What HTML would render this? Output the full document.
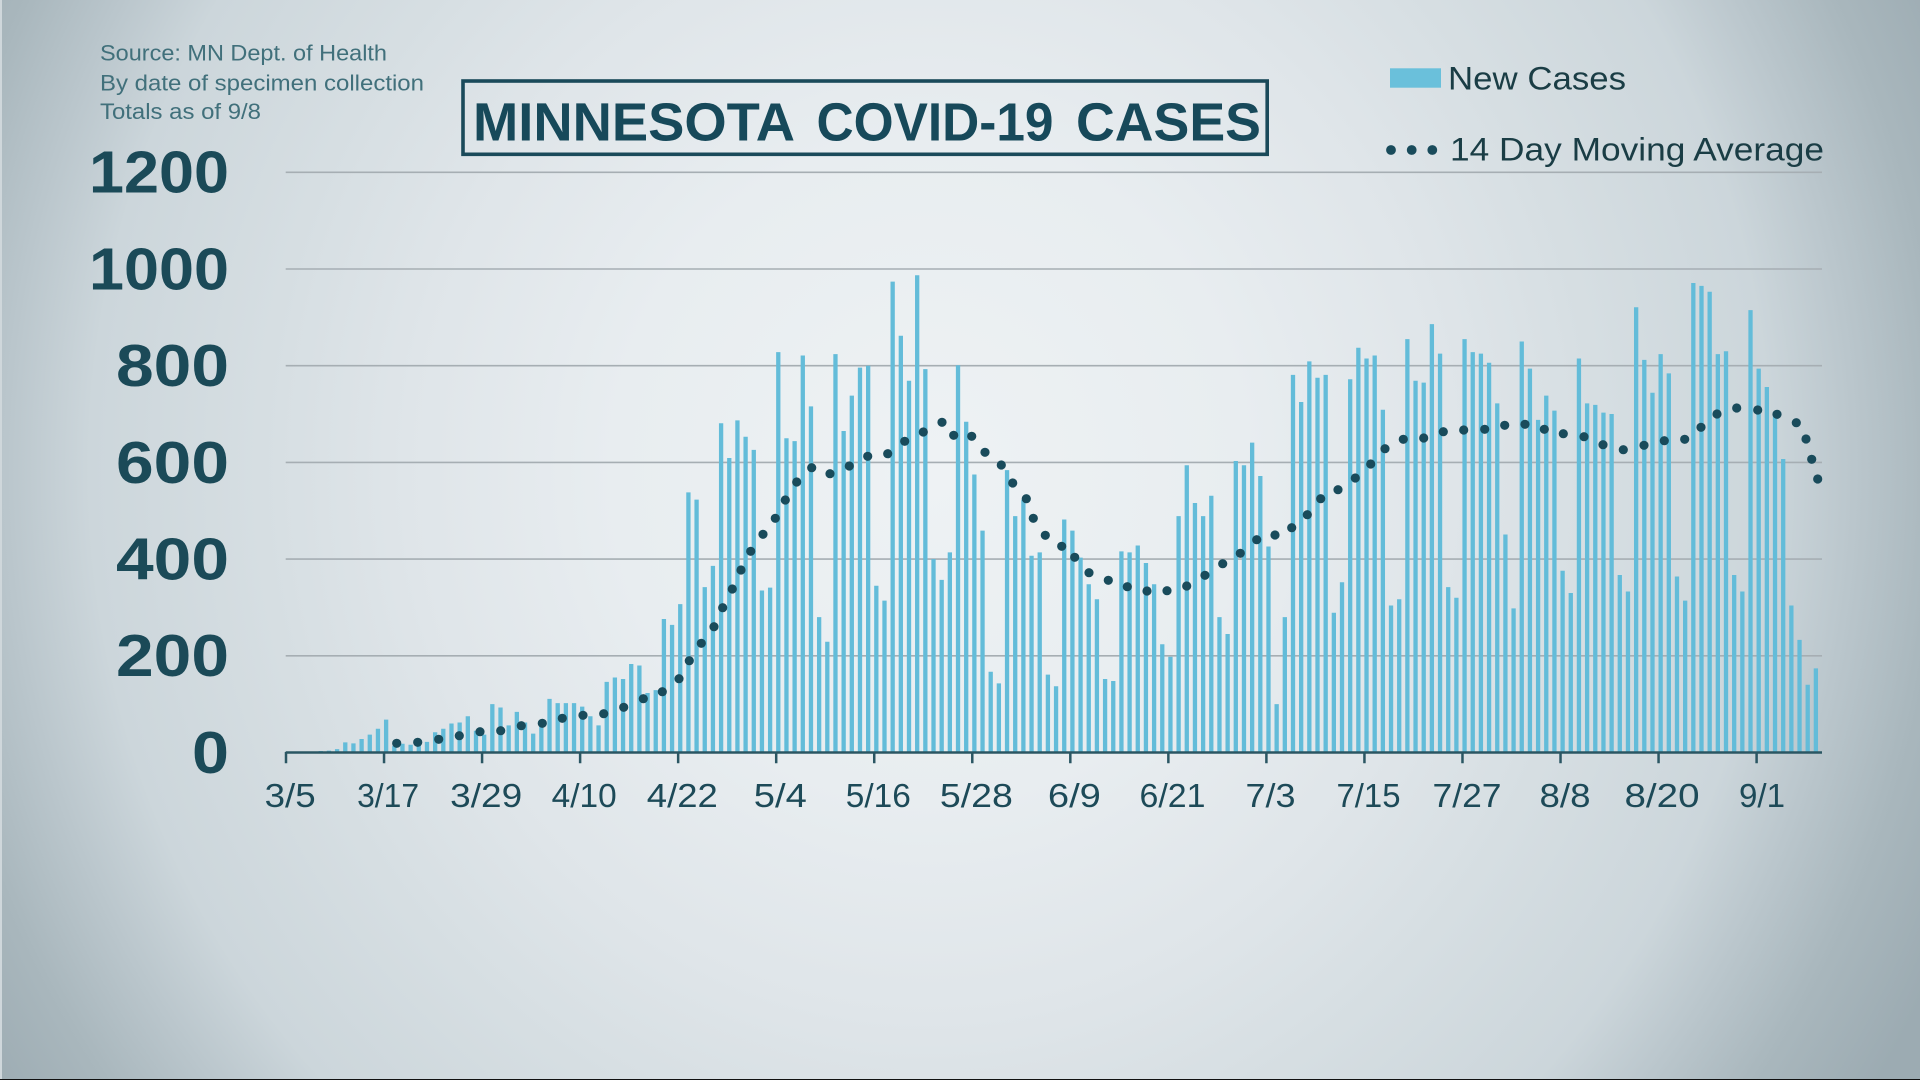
<!DOCTYPE html>
<html>
<head>
<meta charset="utf-8">
<style>
html,body{margin:0;padding:0;width:1920px;height:1080px;overflow:hidden}
body{background:radial-gradient(1050px 1100px at 930px 470px,#eef2f4 0%,#e8edf0 30%,#dfe5e9 50%,#d7dfe3 62%,#ccd6db 80%,#bac6cc 88%,#a9b7bd 96%,#9cabb2 106%);}
svg{position:absolute;left:0;top:0}
text{font-family:"Liberation Sans",Arial,sans-serif}
</style>
</head>
<body>
<svg width="1920" height="1080" viewBox="0 0 1920 1080" xmlns="http://www.w3.org/2000/svg">
<rect x="0" y="0" width="2" height="1080" fill="#cfd7db"/>
<rect x="0" y="1079" width="1920" height="1" fill="#111"/>

<g fill="#41707b" font-size="22">
<text x="100" y="60.7" textLength="287" lengthAdjust="spacingAndGlyphs">Source: MN Dept. of Health</text>
<text x="100" y="90.7" textLength="324" lengthAdjust="spacingAndGlyphs">By date of specimen collection</text>
<text x="100" y="119" textLength="161" lengthAdjust="spacingAndGlyphs">Totals as of 9/8</text>
</g>

<rect x="463" y="81" width="804.2" height="73.3" fill="none" stroke="#1a4a5a" stroke-width="3.6"/>
<g fill="#17495a" font-size="54" font-weight="bold">
<text x="473" y="140.7" textLength="322" lengthAdjust="spacingAndGlyphs">MINNESOTA</text>
<text x="816.5" y="140.7" textLength="237" lengthAdjust="spacingAndGlyphs">COVID-19</text>
<text x="1076" y="140.7" textLength="185" lengthAdjust="spacingAndGlyphs">CASES</text>
</g>

<rect x="1390" y="68.3" width="51" height="19.4" fill="#6ac0db"/>
<g fill="#1a3d45" font-size="32">
<text x="1448" y="89.3" textLength="178" lengthAdjust="spacingAndGlyphs">New Cases</text>
<text x="1450" y="160.7" textLength="374" lengthAdjust="spacingAndGlyphs">14 Day Moving Average</text>
</g>
<g fill="#194b5b">
<circle cx="1391" cy="150" r="4.9"/><circle cx="1411.7" cy="150" r="4.9"/><circle cx="1432.3" cy="150" r="4.9"/>
</g>

<g stroke="#a6aeb3" stroke-width="1.6">
<line x1="285.7" y1="172.3" x2="1822" y2="172.3"/>
<line x1="285.7" y1="269" x2="1822" y2="269"/>
<line x1="285.7" y1="365.7" x2="1822" y2="365.7"/>
<line x1="285.7" y1="462.4" x2="1822" y2="462.4"/>
<line x1="285.7" y1="559.1" x2="1822" y2="559.1"/>
<line x1="285.7" y1="655.8" x2="1822" y2="655.8"/>
</g>

<g fill="#1b4a58" font-size="59" font-weight="bold" text-anchor="end">
<text x="229" y="192.7" textLength="140" lengthAdjust="spacingAndGlyphs">1200</text>
<text x="229" y="289.4" textLength="140" lengthAdjust="spacingAndGlyphs">1000</text>
<text x="229" y="386.1" textLength="113" lengthAdjust="spacingAndGlyphs">800</text>
<text x="229" y="482.8" textLength="113" lengthAdjust="spacingAndGlyphs">600</text>
<text x="229" y="579.5" textLength="113" lengthAdjust="spacingAndGlyphs">400</text>
<text x="229" y="676.2" textLength="113" lengthAdjust="spacingAndGlyphs">200</text>
<text x="229" y="772.9" textLength="37" lengthAdjust="spacingAndGlyphs">0</text>
</g>

<g transform="translate(285.935,752.5) scale(1,-0.4835)" fill="#63bcd9">
<path d="M0,0h4.3v2h-4.3z m8.17,0h4.3v1h-4.3z m8.17,0h4.3v1h-4.3z m8.17,0h4.3v2h-4.3z m8.17,0h4.3v3h-4.3z m8.17,0h4.3v4h-4.3z m8.17,0h4.3v7h-4.3z m8.17,0h4.3v21h-4.3z m8.17,0h4.3v19h-4.3z m8.17,0h4.3v28h-4.3z m8.17,0h4.3v37h-4.3z m8.17,0h4.3v49h-4.3z m8.17,0h4.3v68h-4.3z m8.17,0h4.3v14h-4.3z m8.17,0h4.3v18h-4.3z m8.17,0h4.3v16h-4.3z m8.17,0h4.3v23h-4.3z m8.17,0h4.3v22h-4.3z m8.17,0h4.3v42h-4.3z m8.17,0h4.3v49h-4.3z m8.17,0h4.3v60h-4.3z m8.17,0h4.3v62h-4.3z m8.17,0h4.3v75h-4.3z m8.17,0h4.3v45h-4.3z m8.17,0h4.3v37h-4.3z m8.17,0h4.3v100h-4.3z m8.17,0h4.3v93h-4.3z m8.17,0h4.3v56h-4.3z m8.17,0h4.3v84h-4.3z m8.17,0h4.3v62h-4.3z m8.17,0h4.3v39h-4.3z m8.17,0h4.3v62h-4.3z m8.17,0h4.3v111h-4.3z m8.17,0h4.3v102h-4.3z m8.17,0h4.3v102h-4.3z m8.17,0h4.3v102h-4.3z m8.17,0h4.3v95h-4.3z m8.17,0h4.3v75h-4.3z m8.17,0h4.3v56h-4.3z m8.17,0h4.3v146h-4.3z m8.17,0h4.3v155h-4.3z m8.17,0h4.3v152h-4.3z m8.17,0h4.3v183h-4.3z m8.17,0h4.3v180h-4.3z m8.17,0h4.3v123h-4.3z m8.17,0h4.3v129h-4.3z m8.17,0h4.3v276h-4.3z m8.17,0h4.3v264h-4.3z m8.17,0h4.3v307h-4.3z m8.17,0h4.3v538h-4.3z m8.17,0h4.3v523h-4.3z m8.17,0h4.3v342h-4.3z m8.17,0h4.3v386h-4.3z m8.17,0h4.3v681h-4.3z m8.17,0h4.3v609h-4.3z m8.17,0h4.3v687h-4.3z m8.17,0h4.3v653h-4.3z m8.17,0h4.3v626h-4.3z m8.17,0h4.3v335h-4.3z m8.17,0h4.3v341h-4.3z m8.17,0h4.3v828h-4.3z m8.17,0h4.3v650h-4.3z m8.17,0h4.3v644h-4.3z m8.17,0h4.3v821h-4.3z m8.17,0h4.3v716h-4.3z m8.17,0h4.3v280h-4.3z m8.17,0h4.3v229h-4.3z m8.17,0h4.3v824h-4.3z m8.17,0h4.3v665h-4.3z m8.17,0h4.3v738h-4.3z m8.17,0h4.3v796h-4.3z m8.17,0h4.3v800h-4.3z m8.17,0h4.3v345h-4.3z m8.17,0h4.3v314h-4.3z m8.17,0h4.3v974h-4.3z m8.17,0h4.3v862h-4.3z m8.17,0h4.3v769h-4.3z m8.17,0h4.3v987h-4.3z m8.17,0h4.3v793h-4.3z m8.17,0h4.3v400h-4.3z m8.17,0h4.3v357h-4.3z m8.17,0h4.3v414h-4.3z m8.17,0h4.3v801h-4.3z m8.17,0h4.3v684h-4.3z m8.17,0h4.3v575h-4.3z m8.17,0h4.3v459h-4.3z m8.17,0h4.3v167h-4.3z m8.17,0h4.3v143h-4.3z m8.17,0h4.3v584h-4.3z m8.17,0h4.3v489h-4.3z m8.17,0h4.3v523h-4.3z m8.17,0h4.3v407h-4.3z m8.17,0h4.3v414h-4.3z m8.17,0h4.3v161h-4.3z m8.17,0h4.3v137h-4.3z m8.17,0h4.3v482h-4.3z m8.17,0h4.3v459h-4.3z m8.17,0h4.3v403h-4.3z m8.17,0h4.3v348h-4.3z m8.17,0h4.3v317h-4.3z m8.17,0h4.3v152h-4.3z m8.17,0h4.3v148h-4.3z m8.17,0h4.3v416h-4.3z m8.17,0h4.3v414h-4.3z m8.17,0h4.3v428h-4.3z m8.17,0h4.3v392h-4.3z m8.17,0h4.3v348h-4.3z m8.17,0h4.3v224h-4.3z m8.17,0h4.3v198h-4.3z m8.17,0h4.3v489h-4.3z m8.17,0h4.3v594h-4.3z m8.17,0h4.3v516h-4.3z m8.17,0h4.3v489h-4.3z m8.17,0h4.3v531h-4.3z m8.17,0h4.3v280h-4.3z m8.17,0h4.3v245h-4.3z m8.17,0h4.3v603h-4.3z m8.17,0h4.3v594h-4.3z m8.17,0h4.3v641h-4.3z m8.17,0h4.3v572h-4.3z m8.17,0h4.3v426h-4.3z m8.17,0h4.3v100h-4.3z m8.17,0h4.3v280h-4.3z m8.17,0h4.3v781h-4.3z m8.17,0h4.3v725h-4.3z m8.17,0h4.3v809h-4.3z m8.17,0h4.3v775h-4.3z m8.17,0h4.3v781h-4.3z m8.17,0h4.3v289h-4.3z m8.17,0h4.3v352h-4.3z m8.17,0h4.3v772h-4.3z m8.17,0h4.3v837h-4.3z m8.17,0h4.3v815h-4.3z m8.17,0h4.3v821h-4.3z m8.17,0h4.3v709h-4.3z m8.17,0h4.3v304h-4.3z m8.17,0h4.3v317h-4.3z m8.17,0h4.3v855h-4.3z m8.17,0h4.3v769h-4.3z m8.17,0h4.3v765h-4.3z m8.17,0h4.3v886h-4.3z m8.17,0h4.3v825h-4.3z m8.17,0h4.3v342h-4.3z m8.17,0h4.3v320h-4.3z m8.17,0h4.3v855h-4.3z m8.17,0h4.3v828h-4.3z m8.17,0h4.3v825h-4.3z m8.17,0h4.3v806h-4.3z m8.17,0h4.3v722h-4.3z m8.17,0h4.3v451h-4.3z m8.17,0h4.3v298h-4.3z m8.17,0h4.3v850h-4.3z m8.17,0h4.3v794h-4.3z m8.17,0h4.3v688h-4.3z m8.17,0h4.3v738h-4.3z m8.17,0h4.3v707h-4.3z m8.17,0h4.3v376h-4.3z m8.17,0h4.3v330h-4.3z m8.17,0h4.3v815h-4.3z m8.17,0h4.3v722h-4.3z m8.17,0h4.3v719h-4.3z m8.17,0h4.3v703h-4.3z m8.17,0h4.3v700h-4.3z m8.17,0h4.3v367h-4.3z m8.17,0h4.3v333h-4.3z m8.17,0h4.3v921h-4.3z m8.17,0h4.3v812h-4.3z m8.17,0h4.3v744h-4.3z m8.17,0h4.3v824h-4.3z m8.17,0h4.3v784h-4.3z m8.17,0h4.3v364h-4.3z m8.17,0h4.3v314h-4.3z m8.17,0h4.3v971h-4.3z m8.17,0h4.3v965h-4.3z m8.17,0h4.3v953h-4.3z m8.17,0h4.3v824h-4.3z m8.17,0h4.3v830h-4.3z m8.17,0h4.3v367h-4.3z m8.17,0h4.3v333h-4.3z m8.17,0h4.3v915h-4.3z m8.17,0h4.3v794h-4.3z m8.17,0h4.3v756h-4.3z m8.17,0h4.3v700h-4.3z m8.17,0h4.3v607h-4.3z m8.17,0h4.3v304h-4.3z m8.17,0h4.3v233h-4.3z m8.17,0h4.3v140h-4.3z m8.17,0h4.3v174h-4.3z"/>
</g>

<g stroke="#2a5663" stroke-width="2.5" fill="none">
<line x1="285.7" y1="752.5" x2="1822" y2="752.5"/>
<path d="M286,752v11.3M384.04,752v11.3M482.08,752v11.3M580.12,752v11.3M678.16,752v11.3M776.2,752v11.3M874.24,752v11.3M972.28,752v11.3M1070.32,752v11.3M1168.36,752v11.3M1266.4,752v11.3M1364.44,752v11.3M1462.48,752v11.3M1560.52,752v11.3M1658.56,752v11.3M1756.6,752v11.3"/>
</g>

<g fill="#194b5b">
<circle cx="396.7" cy="743.3" r="4.6"/><circle cx="417.7" cy="742.3" r="4.6"/><circle cx="438.7" cy="739.3" r="4.6"/><circle cx="459.3" cy="735.7" r="4.6"/><circle cx="480.0" cy="731.7" r="4.6"/><circle cx="500.7" cy="730.7" r="4.6"/><circle cx="521.3" cy="725.7" r="4.6"/><circle cx="542.3" cy="723.3" r="4.6"/><circle cx="562.3" cy="718.3" r="4.6"/><circle cx="583.0" cy="715.3" r="4.6"/><circle cx="603.7" cy="713.7" r="4.6"/><circle cx="623.7" cy="707.3" r="4.6"/><circle cx="643.3" cy="698.7" r="4.6"/><circle cx="662.3" cy="691.7" r="4.6"/><circle cx="679.0" cy="678.7" r="4.6"/><circle cx="689.3" cy="660.7" r="4.6"/><circle cx="701.3" cy="643.3" r="4.6"/><circle cx="714.0" cy="626.7" r="4.6"/><circle cx="722.7" cy="607.7" r="4.6"/><circle cx="732.3" cy="589.0" r="4.6"/><circle cx="741.0" cy="570.0" r="4.6"/><circle cx="750.7" cy="551.3" r="4.6"/><circle cx="763.0" cy="534.3" r="4.6"/><circle cx="775.3" cy="518.3" r="4.6"/><circle cx="785.3" cy="500.0" r="4.6"/>
<circle cx="796.7" cy="482.0" r="4.6"/><circle cx="811.7" cy="467.7" r="4.6"/><circle cx="830.0" cy="473.7" r="4.6"/><circle cx="849.3" cy="466.0" r="4.6"/><circle cx="867.7" cy="456.3" r="4.6"/><circle cx="887.7" cy="453.7" r="4.6"/><circle cx="904.7" cy="441.3" r="4.6"/><circle cx="923.3" cy="432.0" r="4.6"/><circle cx="942.0" cy="422.3" r="4.6"/><circle cx="953.7" cy="435.3" r="4.6"/><circle cx="971.7" cy="436.3" r="4.6"/><circle cx="985.0" cy="452.3" r="4.6"/><circle cx="1001.3" cy="465.0" r="4.6"/><circle cx="1012.7" cy="483.0" r="4.6"/><circle cx="1026.3" cy="498.7" r="4.6"/><circle cx="1033.3" cy="518.3" r="4.6"/><circle cx="1045.3" cy="535.3" r="4.6"/><circle cx="1061.7" cy="546.3" r="4.6"/><circle cx="1074.7" cy="557.3" r="4.6"/><circle cx="1089.0" cy="572.7" r="4.6"/><circle cx="1108.3" cy="580.3" r="4.6"/><circle cx="1127.3" cy="586.7" r="4.6"/><circle cx="1147.0" cy="591.0" r="4.6"/><circle cx="1167.0" cy="590.7" r="4.6"/><circle cx="1186.7" cy="586.0" r="4.6"/><circle cx="1205.0" cy="575.3" r="4.6"/><circle cx="1222.7" cy="563.7" r="4.6"/><circle cx="1240.3" cy="553.3" r="4.6"/><circle cx="1256.7" cy="539.7" r="4.6"/><circle cx="1275.0" cy="535.0" r="4.6"/><circle cx="1291.7" cy="527.7" r="4.6"/>
<circle cx="1307.3" cy="514.7" r="4.6"/><circle cx="1320.7" cy="498.7" r="4.6"/><circle cx="1338.0" cy="489.7" r="4.6"/><circle cx="1355.3" cy="478.0" r="4.6"/><circle cx="1370.7" cy="464.0" r="4.6"/><circle cx="1385.0" cy="448.7" r="4.6"/><circle cx="1403.3" cy="439.3" r="4.6"/><circle cx="1423.7" cy="438.0" r="4.6"/><circle cx="1443.3" cy="431.7" r="4.6"/><circle cx="1463.7" cy="430.0" r="4.6"/><circle cx="1484.7" cy="429.3" r="4.6"/><circle cx="1504.7" cy="425.3" r="4.6"/><circle cx="1525.0" cy="424.3" r="4.6"/><circle cx="1544.3" cy="429.3" r="4.6"/><circle cx="1563.3" cy="433.7" r="4.6"/><circle cx="1584.0" cy="436.7" r="4.6"/><circle cx="1603.0" cy="444.7" r="4.6"/><circle cx="1623.3" cy="449.7" r="4.6"/><circle cx="1644.0" cy="445.3" r="4.6"/><circle cx="1664.3" cy="440.7" r="4.6"/><circle cx="1684.7" cy="439.3" r="4.6"/><circle cx="1701.0" cy="427.3" r="4.6"/><circle cx="1717.0" cy="414.0" r="4.6"/><circle cx="1736.7" cy="408.0" r="4.6"/><circle cx="1757.7" cy="410.0" r="4.6"/><circle cx="1777.0" cy="414.3" r="4.6"/><circle cx="1796.3" cy="422.7" r="4.6"/><circle cx="1806.0" cy="439.0" r="4.6"/><circle cx="1811.7" cy="459.3" r="4.6"/><circle cx="1817.7" cy="479.0" r="4.6"/>
</g>

<g fill="#1d4a58" font-size="33" text-anchor="middle">
<text x="290.1" y="807" textLength="51" lengthAdjust="spacingAndGlyphs">3/5</text>
<text x="388.1" y="807" textLength="62" lengthAdjust="spacingAndGlyphs">3/17</text>
<text x="486.2" y="807" textLength="72" lengthAdjust="spacingAndGlyphs">3/29</text>
<text x="584.2" y="807" textLength="65" lengthAdjust="spacingAndGlyphs">4/10</text>
<text x="682.3" y="807" textLength="71" lengthAdjust="spacingAndGlyphs">4/22</text>
<text x="780.3" y="807" textLength="53" lengthAdjust="spacingAndGlyphs">5/4</text>
<text x="878.3" y="807" textLength="65" lengthAdjust="spacingAndGlyphs">5/16</text>
<text x="976.4" y="807" textLength="73" lengthAdjust="spacingAndGlyphs">5/28</text>
<text x="1074.4" y="807" textLength="53" lengthAdjust="spacingAndGlyphs">6/9</text>
<text x="1172.5" y="807" textLength="66" lengthAdjust="spacingAndGlyphs">6/21</text>
<text x="1270.5" y="807" textLength="50" lengthAdjust="spacingAndGlyphs">7/3</text>
<text x="1368.5" y="807" textLength="64" lengthAdjust="spacingAndGlyphs">7/15</text>
<text x="1467" y="807" textLength="69" lengthAdjust="spacingAndGlyphs">7/27</text>
<text x="1565" y="807" textLength="51" lengthAdjust="spacingAndGlyphs">8/8</text>
<text x="1662" y="807" textLength="75" lengthAdjust="spacingAndGlyphs">8/20</text>
<text x="1762" y="807" textLength="46" lengthAdjust="spacingAndGlyphs">9/1</text>
</g>
</svg>
</body>
</html>
